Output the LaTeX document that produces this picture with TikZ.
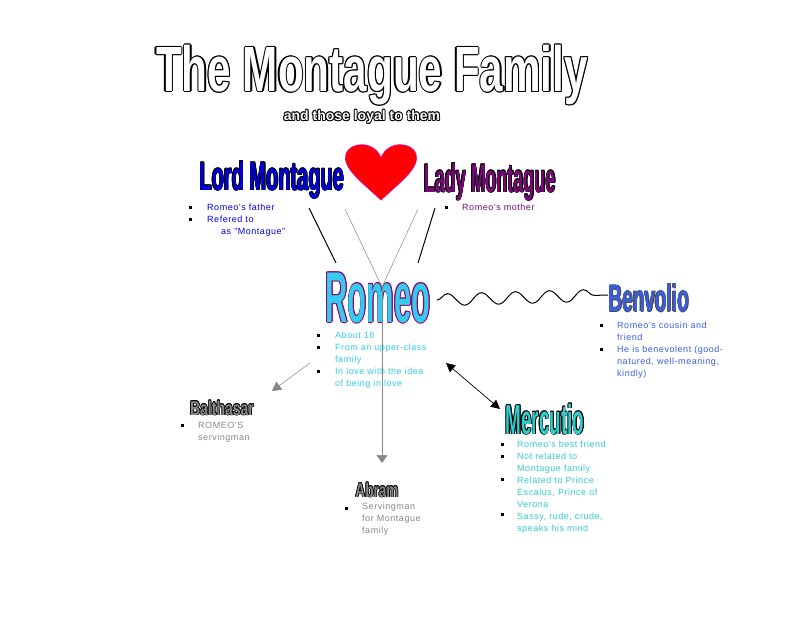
\documentclass[tikz,border=0pt]{standalone}
\usepackage{fontspec}
\setmainfont{Liberation Sans}
\usetikzlibrary{calc,arrows.meta,decorations.pathmorphing}
\definecolor{lordc}{HTML}{0000DD}
\definecolor{ladyc}{HTML}{7A0A7A}
\definecolor{romc}{HTML}{33CCEE}
\definecolor{romtxt}{HTML}{33CCEE}
\definecolor{benc}{HTML}{3A5FE0}
\definecolor{merc}{HTML}{33CCCC}
\definecolor{grayc}{HTML}{888888}
\newcommand\otext[7]{%
  \foreach \dx/\dy in {-1/0,1/0,0/-1,0/1,-.7/-.7,.7/.7,-.7/.7,.7/-.7}{%
    \node[text=#4,inner sep=0,font=#5] at ($(#2)+(#7*\dx,#7*\dy)$) {#6};}
  \node[text=#3,inner sep=0,font=#5] (#1) at (#2) {#6};}
\begin{document}
\begin{tikzpicture}[x=1pt,y=-1pt,
  btxt/.style={anchor=north west,inner sep=0,align=left,font=\fontsize{9}{12}\selectfont\addfontfeature{LetterSpace=6}},
  bul/.style={anchor=north west,inner sep=0,font=\fontsize{9}{12}\selectfont},
  rel/.style={line width=1pt,black},
  thin/.style={grayc,line width=0.5pt}]
\useasboundingbox (0,0) rectangle (800,618);
\fill[white] (0,0) rectangle (800,618);
% title
\otext{title}{372,75}{white}{black}{\fontsize{64}{64}\bfseries}{\scalebox{0.66}[1]{The Montague Family}}{1.2}
\otext{sub}{362,117}{white}{black}{\fontsize{14}{14}\bfseries}{\scalebox{1.0}[1]{and those loyal to them}}{0.9}
% heart
\draw[fill=red,draw=magenta,line width=0.8pt] (381,200) .. controls (362,182) and (342,168) .. (346,154) .. controls (350,142) and (374,140) .. (381,158) .. controls (388,140) and (412,142) .. (416,154) .. controls (420,168) and (400,182) .. (381,200);
% names
\otext{lord}{272,180}{lordc}{black}{\fontsize{40}{40}\bfseries}{\scalebox{0.5}[1]{Lord Montague}}{0.6}
\otext{lady}{490,182}{ladyc}{black}{\fontsize{40}{40}\bfseries}{\scalebox{0.45}[1]{Lady Montague}}{0.6}
\otext{romeo}{378,298}{romc}{violet!70!purple}{\fontsize{72}{72}\bfseries}{\scalebox{0.43}[1]{Romeo}}{0.8}
\otext{benvolio}{649,298}{benc}{black!70}{\fontsize{38}{38}\bfseries}{\scalebox{0.5}[1]{Benvolio}}{0.5}
\otext{mercutio}{545,419}{merc}{black}{\fontsize{42}{42}\bfseries}{\scalebox{0.45}[1]{Mercutio}}{0.7}
\otext{balthasar}{222,408}{grayc}{black}{\fontsize{20}{20}\bfseries}{\scalebox{0.7}[1]{Balthasar}}{0.7}
\otext{abram}{377,490}{grayc}{black}{\fontsize{20}{20}\bfseries}{\scalebox{0.68}[1]{Abram}}{0.7}
% bullets
\foreach \x/\y in {189/206,189/218}{\node[bul] at (\x,\y) {\rule{2.5pt}{2.5pt}};}
\node[btxt,text=lordc] (lordtxt) at (207,204) {Romeo's father\\Refered to\\\hspace*{14pt}as "Montague"};
\node[bul] at (445,206) {\rule{2.5pt}{2.5pt}};
\node[btxt,text=ladyc] (ladytxt) at (462,204) {Romeo's mother};
\foreach \y in {334,346,370}{\node[bul] at (317,\y) {\rule{2.5pt}{2.5pt}};}
\node[btxt,text=romtxt] (romtxt) at (335,332) {About 16\\From an upper-class\\family\\In love with the idea\\of being in love};
\foreach \y in {324,348}{\node[bul] at (600,\y) {\rule{2.5pt}{2.5pt}};}
\node[btxt,text=benc] (bentxt) at (617,322) {Romeo's cousin and\\friend\\He is benevolent (good-\\natured, well-meaning,\\kindly)};
\node[bul] at (181,424) {\rule{2.5pt}{2.5pt}};
\node[btxt,text=grayc] (baltxt) at (198,422) {ROMEO'S\\servingman};
\node[bul] at (345,507) {\rule{2.5pt}{2.5pt}};
\node[btxt,text=grayc] (abrtxt) at (362,503) {Servingman\\for Montague\\family};
\foreach \y in {443,455,478,513}{\node[bul] at (501,\y) {\rule{2.5pt}{2.5pt}};}
\node[btxt,text=merc] (mertxt) at (517,441) {Romeo's best friend\\Not related to\\Montague family\\Related to Prince\\Escalus, Prince of\\Verona\\Sassy, rude, crude,\\speaks his mind};
% connectors
\coordinate (l1) at (309,208); \coordinate (l2) at (336,263);
\coordinate (d1) at (435,208); \coordinate (d2) at (418,263);
\draw[rel] (l1) -- (l2);
\draw[rel] (d1) -- (d2);
\coordinate (h1) at (345,209); \coordinate (h2) at (418,209); \coordinate (hj) at (382,287);
\coordinate (ab) at (382,463);
\draw[thin] (h1) -- (hj) -- (h2);
\draw[thin,-{Triangle[width=11pt,length=8pt]}] (hj) -- (ab);
\coordinate (b1) at (310,363); \coordinate (b2) at (272,391);
\draw[thin,-{Triangle[width=10pt,length=9pt]}] (b1) -- (b2);
\coordinate (m1) at (446,363); \coordinate (m2) at (500,409);
\draw[black,line width=0.7pt,{Triangle[width=9pt,length=9pt]}-{Triangle[width=9pt,length=9pt]}] (m1) -- (m2);
\coordinate (w1) at (437,300); \coordinate (w2) at (608,295);
\draw[black,line width=1pt,decorate,decoration={snake,amplitude=6pt,segment length=34pt}] (w1) -- (w2);
\end{tikzpicture}
\end{document}
